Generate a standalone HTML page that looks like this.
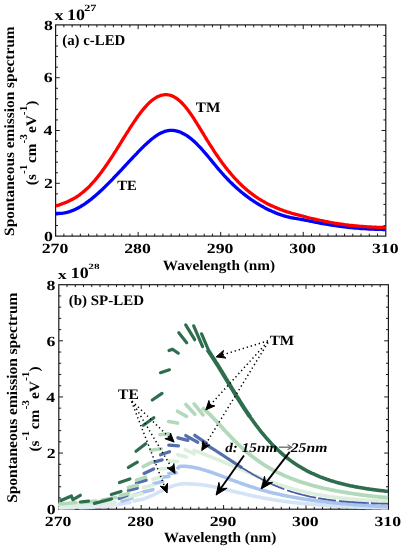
<!DOCTYPE html>
<html><head><meta charset="utf-8"><title>Spontaneous emission spectrum</title>
<style>html,body{margin:0;padding:0;background:#fff;}body{width:404px;height:550px;overflow:hidden;}svg{display:block;}</style>
</head><body>
<svg width="404" height="550" viewBox="0 0 404 550">
<rect width="404" height="550" fill="#fff"/>
<g font-family="'Liberation Serif','Times New Roman',serif" font-weight="bold" text-rendering="geometricPrecision" fill="#000">
<rect x="55.6" y="24.9" width="330.2" height="211.2" fill="none" stroke="#1a1a1a" stroke-width="1.2"/>
<path d="M63.86,236.1v-2.4M63.86,24.9v2.4M72.11,236.1v-2.4M72.11,24.9v2.4M80.36,236.1v-2.4M80.36,24.9v2.4M88.62,236.1v-2.4M88.62,24.9v2.4M96.88,236.1v-2.4M96.88,24.9v2.4M105.13,236.1v-2.4M105.13,24.9v2.4M113.38,236.1v-2.4M113.38,24.9v2.4M121.64,236.1v-2.4M121.64,24.9v2.4M129.89,236.1v-2.4M129.89,24.9v2.4M138.15,236.1v-4.2M138.15,24.9v4.2M146.41,236.1v-2.4M146.41,24.9v2.4M154.66,236.1v-2.4M154.66,24.9v2.4M162.91,236.1v-2.4M162.91,24.9v2.4M171.17,236.1v-2.4M171.17,24.9v2.4M179.42,236.1v-2.4M179.42,24.9v2.4M187.68,236.1v-2.4M187.68,24.9v2.4M195.93,236.1v-2.4M195.93,24.9v2.4M204.19,236.1v-2.4M204.19,24.9v2.4M212.44,236.1v-2.4M212.44,24.9v2.4M220.70,236.1v-4.2M220.70,24.9v4.2M228.95,236.1v-2.4M228.95,24.9v2.4M237.21,236.1v-2.4M237.21,24.9v2.4M245.46,236.1v-2.4M245.46,24.9v2.4M253.72,236.1v-2.4M253.72,24.9v2.4M261.97,236.1v-2.4M261.97,24.9v2.4M270.23,236.1v-2.4M270.23,24.9v2.4M278.48,236.1v-2.4M278.48,24.9v2.4M286.74,236.1v-2.4M286.74,24.9v2.4M295.00,236.1v-2.4M295.00,24.9v2.4M303.25,236.1v-4.2M303.25,24.9v4.2M311.50,236.1v-2.4M311.50,24.9v2.4M319.76,236.1v-2.4M319.76,24.9v2.4M328.01,236.1v-2.4M328.01,24.9v2.4M336.27,236.1v-2.4M336.27,24.9v2.4M344.52,236.1v-2.4M344.52,24.9v2.4M352.78,236.1v-2.4M352.78,24.9v2.4M361.03,236.1v-2.4M361.03,24.9v2.4M369.29,236.1v-2.4M369.29,24.9v2.4M377.54,236.1v-2.4M377.54,24.9v2.4M55.6,225.54h2.4M385.8,225.54h-2.4M55.6,214.98h2.4M385.8,214.98h-2.4M55.6,204.42h2.4M385.8,204.42h-2.4M55.6,193.86h2.4M385.8,193.86h-2.4M55.6,183.30h4.2M385.8,183.30h-4.2M55.6,172.74h2.4M385.8,172.74h-2.4M55.6,162.18h2.4M385.8,162.18h-2.4M55.6,151.62h2.4M385.8,151.62h-2.4M55.6,141.06h2.4M385.8,141.06h-2.4M55.6,130.50h4.2M385.8,130.50h-4.2M55.6,119.94h2.4M385.8,119.94h-2.4M55.6,109.38h2.4M385.8,109.38h-2.4M55.6,98.82h2.4M385.8,98.82h-2.4M55.6,88.26h2.4M385.8,88.26h-2.4M55.6,77.70h4.2M385.8,77.70h-4.2M55.6,67.14h2.4M385.8,67.14h-2.4M55.6,56.58h2.4M385.8,56.58h-2.4M55.6,46.02h2.4M385.8,46.02h-2.4M55.6,35.46h2.4M385.8,35.46h-2.4" stroke="#1a1a1a" stroke-width="1" fill="none"/>
<path d="M55.9,213.3 L56.9,213.4 L57.9,213.4 L58.9,213.5 L59.9,213.4 L60.9,213.4 L61.9,213.3 L62.9,213.2 L63.9,213.0 L64.9,212.8 L65.9,212.6 L66.9,212.4 L67.9,212.1 L68.9,211.9 L69.9,211.5 L70.9,211.2 L71.9,210.8 L72.9,210.4 L73.9,210.0 L74.9,209.5 L75.9,209.1 L76.9,208.6 L77.9,208.1 L78.9,207.5 L79.9,206.9 L80.9,206.4 L81.9,205.7 L82.9,205.1 L83.9,204.5 L84.9,203.8 L85.9,203.1 L86.9,202.4 L87.9,201.7 L88.9,200.9 L89.9,200.1 L90.9,199.4 L91.9,198.6 L92.9,197.7 L93.9,196.9 L94.9,196.1 L95.9,195.2 L96.9,194.3 L97.9,193.4 L98.9,192.5 L99.9,191.6 L100.9,190.7 L101.9,189.8 L102.9,188.8 L103.9,187.8 L104.9,186.9 L105.9,185.9 L106.9,184.9 L107.9,183.9 L108.9,182.9 L109.9,181.9 L110.9,180.9 L111.9,179.8 L112.9,178.8 L113.9,177.7 L114.9,176.7 L115.9,175.6 L116.9,174.6 L117.9,173.5 L118.9,172.5 L119.9,171.4 L120.9,170.3 L121.9,169.3 L122.9,168.2 L123.9,167.1 L124.9,166.0 L125.9,165.0 L126.9,163.9 L127.9,162.8 L128.9,161.7 L129.9,160.7 L130.9,159.6 L131.9,158.5 L132.9,157.5 L133.9,156.4 L134.9,155.4 L135.9,154.3 L136.9,153.3 L137.9,152.2 L138.9,151.2 L139.9,150.2 L140.9,149.1 L141.9,148.1 L142.9,147.2 L143.9,146.2 L144.9,145.2 L145.9,144.3 L146.9,143.3 L147.9,142.4 L148.9,141.5 L149.9,140.7 L150.9,139.8 L151.9,139.0 L152.9,138.2 L153.9,137.5 L154.9,136.7 L155.9,136.0 L156.9,135.4 L157.9,134.7 L158.9,134.1 L159.9,133.6 L160.9,133.1 L161.9,132.6 L162.9,132.2 L163.9,131.8 L164.9,131.4 L165.9,131.1 L166.9,130.9 L167.9,130.7 L168.9,130.5 L169.9,130.4 L170.9,130.4 L171.9,130.4 L172.9,130.4 L173.9,130.5 L174.9,130.7 L175.9,130.9 L176.9,131.1 L177.9,131.4 L178.9,131.7 L179.9,132.0 L180.9,132.4 L181.9,132.9 L182.9,133.4 L183.9,133.9 L184.9,134.5 L185.9,135.1 L186.9,135.7 L187.9,136.4 L188.9,137.1 L189.9,137.9 L190.9,138.6 L191.9,139.5 L192.9,140.3 L193.9,141.2 L194.9,142.1 L195.9,143.1 L196.9,144.0 L197.9,145.1 L198.9,146.1 L199.9,147.1 L200.9,148.2 L201.9,149.3 L202.9,150.5 L203.9,151.6 L204.9,152.8 L205.9,153.9 L206.9,155.1 L207.9,156.3 L208.9,157.5 L209.9,158.7 L210.9,159.9 L211.9,161.1 L212.9,162.4 L213.9,163.6 L214.9,164.8 L215.9,166.0 L216.9,167.2 L217.9,168.4 L218.9,169.6 L219.9,170.7 L220.9,171.9 L221.9,173.0 L222.9,174.1 L223.9,175.3 L224.9,176.3 L225.9,177.4 L226.9,178.5 L227.9,179.5 L228.9,180.5 L229.9,181.6 L230.9,182.6 L231.9,183.5 L232.9,184.5 L233.9,185.4 L234.9,186.4 L235.9,187.3 L236.9,188.2 L237.9,189.1 L238.9,190.0 L239.9,190.8 L240.9,191.7 L241.9,192.5 L242.9,193.3 L243.9,194.1 L244.9,194.9 L245.9,195.7 L246.9,196.4 L247.9,197.2 L248.9,197.9 L249.9,198.6 L250.9,199.3 L251.9,200.0 L252.9,200.7 L253.9,201.4 L254.9,202.0 L255.9,202.7 L256.9,203.3 L257.9,203.9 L258.9,204.5 L259.9,205.1 L260.9,205.7 L261.9,206.3 L262.9,206.8 L263.9,207.3 L264.9,207.9 L265.9,208.4 L266.9,208.9 L267.9,209.4 L268.9,209.9 L269.9,210.4 L270.9,210.8 L271.9,211.3 L272.9,211.7 L273.9,212.1 L274.9,212.6 L275.9,213.0 L276.9,213.4 L277.9,213.8 L278.9,214.1 L279.9,214.5 L280.9,214.9 L281.9,215.2 L282.9,215.5 L283.9,215.8 L284.9,216.1 L285.9,216.4 L286.9,216.7 L287.9,216.9 L288.9,217.1 L289.9,217.4 L290.9,217.6 L291.9,217.8 L292.9,218.0 L293.9,218.1 L294.9,218.3 L295.9,218.5 L296.9,218.7 L297.9,218.8 L298.9,219.0 L299.9,219.2 L300.9,219.4 L301.9,219.5 L302.9,219.7 L303.9,219.9 L304.9,220.1 L305.9,220.3 L306.9,220.5 L307.9,220.7 L308.9,220.9 L309.9,221.1 L310.9,221.3 L311.9,221.5 L312.9,221.7 L313.9,221.9 L314.9,222.1 L315.9,222.3 L316.9,222.5 L317.9,222.7 L318.9,222.9 L319.9,223.1 L320.9,223.3 L321.9,223.5 L322.9,223.6 L323.9,223.8 L324.9,224.0 L325.9,224.2 L326.9,224.3 L327.9,224.5 L328.9,224.7 L329.9,224.8 L330.9,225.0 L331.9,225.1 L332.9,225.3 L333.9,225.4 L334.9,225.6 L335.9,225.7 L336.9,225.9 L337.9,226.0 L338.9,226.2 L339.9,226.3 L340.9,226.4 L341.9,226.5 L342.9,226.7 L343.9,226.8 L344.9,226.9 L345.9,227.0 L346.9,227.1 L347.9,227.3 L348.9,227.4 L349.9,227.5 L350.9,227.6 L351.9,227.7 L352.9,227.8 L353.9,227.9 L354.9,228.0 L355.9,228.1 L356.9,228.1 L357.9,228.2 L358.9,228.3 L359.9,228.4 L360.9,228.5 L361.9,228.5 L362.9,228.6 L363.9,228.7 L364.9,228.7 L365.9,228.8 L366.9,228.9 L367.9,228.9 L368.9,229.0 L369.9,229.0 L370.9,229.1 L371.9,229.1 L372.9,229.2 L373.9,229.2 L374.9,229.3 L375.9,229.3 L376.9,229.3 L377.9,229.3 L378.9,229.4 L379.9,229.4 L380.9,229.4 L381.9,229.4 L382.9,229.5 L383.9,229.5 L384.9,229.5 L385.4,229.5" fill="none" stroke="#0000ff" stroke-width="3.3" stroke-linejoin="round"/>
<path d="M55.9,205.9 L56.9,205.6 L57.9,205.3 L58.9,205.0 L59.9,204.6 L60.9,204.3 L61.9,203.9 L62.9,203.5 L63.9,203.2 L64.9,202.8 L65.9,202.4 L66.9,202.0 L67.9,201.5 L68.9,201.1 L69.9,200.6 L70.9,200.1 L71.9,199.6 L72.9,199.0 L73.9,198.5 L74.9,197.9 L75.9,197.3 L76.9,196.6 L77.9,196.0 L78.9,195.3 L79.9,194.6 L80.9,193.8 L81.9,193.0 L82.9,192.2 L83.9,191.4 L84.9,190.5 L85.9,189.6 L86.9,188.7 L87.9,187.8 L88.9,186.8 L89.9,185.8 L90.9,184.7 L91.9,183.6 L92.9,182.5 L93.9,181.4 L94.9,180.3 L95.9,179.1 L96.9,177.9 L97.9,176.6 L98.9,175.4 L99.9,174.1 L100.9,172.7 L101.9,171.4 L102.9,170.0 L103.9,168.6 L104.9,167.2 L105.9,165.8 L106.9,164.3 L107.9,162.9 L108.9,161.4 L109.9,159.9 L110.9,158.4 L111.9,156.8 L112.9,155.3 L113.9,153.7 L114.9,152.1 L115.9,150.6 L116.9,149.0 L117.9,147.4 L118.9,145.8 L119.9,144.2 L120.9,142.6 L121.9,140.9 L122.9,139.3 L123.9,137.7 L124.9,136.1 L125.9,134.5 L126.9,132.9 L127.9,131.3 L128.9,129.8 L129.9,128.2 L130.9,126.6 L131.9,125.1 L132.9,123.6 L133.9,122.1 L134.9,120.6 L135.9,119.2 L136.9,117.7 L137.9,116.3 L138.9,114.9 L139.9,113.6 L140.9,112.3 L141.9,111.0 L142.9,109.8 L143.9,108.6 L144.9,107.4 L145.9,106.3 L146.9,105.2 L147.9,104.2 L148.9,103.2 L149.9,102.2 L150.9,101.3 L151.9,100.5 L152.9,99.7 L153.9,99.0 L154.9,98.3 L155.9,97.7 L156.9,97.1 L157.9,96.6 L158.9,96.2 L159.9,95.8 L160.9,95.4 L161.9,95.2 L162.9,95.0 L163.9,94.8 L164.9,94.7 L165.9,94.7 L166.9,94.7 L167.9,94.8 L168.9,95.0 L169.9,95.2 L170.9,95.5 L171.9,95.9 L172.9,96.3 L173.9,96.8 L174.9,97.4 L175.9,98.0 L176.9,98.6 L177.9,99.4 L178.9,100.2 L179.9,101.1 L180.9,102.0 L181.9,103.0 L182.9,104.0 L183.9,105.1 L184.9,106.3 L185.9,107.5 L186.9,108.8 L187.9,110.1 L188.9,111.4 L189.9,112.8 L190.9,114.2 L191.9,115.7 L192.9,117.2 L193.9,118.7 L194.9,120.3 L195.9,121.9 L196.9,123.5 L197.9,125.1 L198.9,126.7 L199.9,128.3 L200.9,129.9 L201.9,131.6 L202.9,133.2 L203.9,134.9 L204.9,136.5 L205.9,138.1 L206.9,139.8 L207.9,141.4 L208.9,143.0 L209.9,144.6 L210.9,146.1 L211.9,147.7 L212.9,149.2 L213.9,150.8 L214.9,152.3 L215.9,153.8 L216.9,155.3 L217.9,156.7 L218.9,158.2 L219.9,159.6 L220.9,161.0 L221.9,162.4 L222.9,163.7 L223.9,165.1 L224.9,166.4 L225.9,167.7 L226.9,168.9 L227.9,170.2 L228.9,171.4 L229.9,172.6 L230.9,173.8 L231.9,175.0 L232.9,176.1 L233.9,177.3 L234.9,178.4 L235.9,179.4 L236.9,180.5 L237.9,181.5 L238.9,182.6 L239.9,183.6 L240.9,184.5 L241.9,185.5 L242.9,186.4 L243.9,187.3 L244.9,188.2 L245.9,189.1 L246.9,189.9 L247.9,190.8 L248.9,191.6 L249.9,192.4 L250.9,193.2 L251.9,193.9 L252.9,194.7 L253.9,195.4 L254.9,196.1 L255.9,196.8 L256.9,197.5 L257.9,198.1 L258.9,198.8 L259.9,199.4 L260.9,200.0 L261.9,200.6 L262.9,201.2 L263.9,201.8 L264.9,202.3 L265.9,202.9 L266.9,203.4 L267.9,203.9 L268.9,204.4 L269.9,204.9 L270.9,205.4 L271.9,205.9 L272.9,206.3 L273.9,206.8 L274.9,207.2 L275.9,207.6 L276.9,208.1 L277.9,208.5 L278.9,208.9 L279.9,209.3 L280.9,209.7 L281.9,210.0 L282.9,210.4 L283.9,210.8 L284.9,211.1 L285.9,211.4 L286.9,211.8 L287.9,212.1 L288.9,212.4 L289.9,212.7 L290.9,213.0 L291.9,213.3 L292.9,213.5 L293.9,213.8 L294.9,214.1 L295.9,214.4 L296.9,214.6 L297.9,214.9 L298.9,215.2 L299.9,215.4 L300.9,215.7 L301.9,216.0 L302.9,216.2 L303.9,216.5 L304.9,216.7 L305.9,217.0 L306.9,217.3 L307.9,217.5 L308.9,217.8 L309.9,218.0 L310.9,218.3 L311.9,218.5 L312.9,218.7 L313.9,219.0 L314.9,219.2 L315.9,219.4 L316.9,219.7 L317.9,219.9 L318.9,220.1 L319.9,220.3 L320.9,220.5 L321.9,220.7 L322.9,220.9 L323.9,221.1 L324.9,221.3 L325.9,221.5 L326.9,221.7 L327.9,221.9 L328.9,222.1 L329.9,222.3 L330.9,222.5 L331.9,222.7 L332.9,222.8 L333.9,223.0 L334.9,223.2 L335.9,223.3 L336.9,223.5 L337.9,223.6 L338.9,223.8 L339.9,223.9 L340.9,224.1 L341.9,224.2 L342.9,224.4 L343.9,224.5 L344.9,224.7 L345.9,224.8 L346.9,224.9 L347.9,225.0 L348.9,225.2 L349.9,225.3 L350.9,225.4 L351.9,225.5 L352.9,225.6 L353.9,225.7 L354.9,225.8 L355.9,225.9 L356.9,226.0 L357.9,226.1 L358.9,226.2 L359.9,226.3 L360.9,226.4 L361.9,226.4 L362.9,226.5 L363.9,226.6 L364.9,226.7 L365.9,226.7 L366.9,226.8 L367.9,226.9 L368.9,226.9 L369.9,227.0 L370.9,227.0 L371.9,227.1 L372.9,227.1 L373.9,227.2 L374.9,227.2 L375.9,227.2 L376.9,227.3 L377.9,227.3 L378.9,227.3 L379.9,227.3 L380.9,227.3 L381.9,227.4 L382.9,227.4 L383.9,227.4 L384.9,227.4 L385.4,227.4" fill="none" stroke="#ff0000" stroke-width="3.3" stroke-linejoin="round"/>
<g transform="matrix(1.2680 0 0 1.0000 -209.69 -245.31)"><g transform="translate(200,275)"><text font-size="14">8</text></g></g>
<g transform="matrix(1.2680 0 0 1.0000 -209.76 -192.51)"><g transform="translate(200,275)"><text font-size="14">6</text></g></g>
<g transform="matrix(1.2680 0 0 1.0000 -210.02 -139.58)"><g transform="translate(200,275)"><text font-size="14">4</text></g></g>
<g transform="matrix(1.2680 0 0 1.0000 -209.57 -86.76)"><g transform="translate(200,275)"><text font-size="14">2</text></g></g>
<g transform="matrix(1.2680 0 0 1.0000 -209.62 -34.10)"><g transform="translate(200,275)"><text font-size="14">0</text></g></g>
<g transform="matrix(1.2680 0 0 1.0000 -211.94 -22.32)"><g transform="translate(200,275)"><text font-size="14">270</text></g></g>
<g transform="matrix(1.2680 0 0 1.0000 -129.39 -22.32)"><g transform="translate(200,275)"><text font-size="14">280</text></g></g>
<g transform="matrix(1.2680 0 0 1.0000 -46.84 -22.32)"><g transform="translate(200,275)"><text font-size="14">290</text></g></g>
<g transform="matrix(1.2680 0 0 1.0000 35.74 -22.32)"><g transform="translate(200,275)"><text font-size="14">300</text></g></g>
<g transform="matrix(1.2680 0 0 1.0000 118.29 -22.32)"><g transform="translate(200,275)"><text font-size="14">310</text></g></g>
<g transform="matrix(1.2804 0 0 1.0398 -201.69 -266.13)"><g transform="translate(200,275)"><text font-size="14">x</text></g></g>
<g transform="matrix(1.1957 0 0 1.0640 -172.16 -272.97)"><g transform="translate(200,275)"><text font-size="15">10</text></g></g>
<g transform="matrix(1.2171 0 0 0.9480 -159.17 -250.20)"><g transform="translate(200,275)"><text font-size="10">27</text></g></g>
<g transform="matrix(1.0607 0 0 1.0771 -149.96 -251.22)"><g transform="translate(200,275)"><text font-size="14">(a) c-LED</text></g></g>
<g transform="matrix(1.0915 0 0 1.0345 -22.46 -172.18)"><g transform="translate(200,275)"><text font-size="14">TM</text></g></g>
<g transform="matrix(1.0452 0 0 1.0022 -91.80 -85.79)"><g transform="translate(200,275)"><text font-size="14">TE</text></g></g>
<g transform="matrix(1.0903 0 0 1.0228 -55.29 -10.94)"><g transform="translate(200,275)"><text font-size="14">Wavelength (nm)</text></g></g>
<g transform="matrix(1.0157 0 0 1.0998 -189.00 -171.32)"><g transform="translate(200,275)"><g transform="rotate(-90)"><text font-size="14" text-anchor="middle">Spontaneous emission spectrum</text></g></g></g>
<g transform="matrix(1.0357 0 0 1.0913 -170.67 -157.24)"><g transform="translate(200,275)"><g transform="rotate(-90)"><text font-size="14" text-anchor="middle">(s<tspan font-size="10.4" dy="-9.5">-1</tspan><tspan dy="9.5" dx="1.5">cm</tspan><tspan font-size="10.4" dy="-9.5">-3</tspan><tspan dy="9.5" dx="1">eV</tspan><tspan font-size="10.4" dy="-9.5">-1</tspan><tspan dy="9.5">)</tspan></text></g></g></g>
<rect x="58.8" y="284.7" width="329.59999999999997" height="224.5" fill="none" stroke="#1a1a1a" stroke-width="1.2"/>
<path d="M67.04,509.2v-2.4M67.04,284.7v2.4M75.28,509.2v-2.4M75.28,284.7v2.4M83.52,509.2v-2.4M83.52,284.7v2.4M91.76,509.2v-2.4M91.76,284.7v2.4M100.00,509.2v-2.4M100.00,284.7v2.4M108.24,509.2v-2.4M108.24,284.7v2.4M116.48,509.2v-2.4M116.48,284.7v2.4M124.72,509.2v-2.4M124.72,284.7v2.4M132.96,509.2v-2.4M132.96,284.7v2.4M141.20,509.2v-4.2M141.20,284.7v4.2M149.44,509.2v-2.4M149.44,284.7v2.4M157.68,509.2v-2.4M157.68,284.7v2.4M165.92,509.2v-2.4M165.92,284.7v2.4M174.16,509.2v-2.4M174.16,284.7v2.4M182.40,509.2v-2.4M182.40,284.7v2.4M190.64,509.2v-2.4M190.64,284.7v2.4M198.88,509.2v-2.4M198.88,284.7v2.4M207.12,509.2v-2.4M207.12,284.7v2.4M215.36,509.2v-2.4M215.36,284.7v2.4M223.60,509.2v-4.2M223.60,284.7v4.2M231.84,509.2v-2.4M231.84,284.7v2.4M240.08,509.2v-2.4M240.08,284.7v2.4M248.32,509.2v-2.4M248.32,284.7v2.4M256.56,509.2v-2.4M256.56,284.7v2.4M264.80,509.2v-2.4M264.80,284.7v2.4M273.04,509.2v-2.4M273.04,284.7v2.4M281.28,509.2v-2.4M281.28,284.7v2.4M289.52,509.2v-2.4M289.52,284.7v2.4M297.76,509.2v-2.4M297.76,284.7v2.4M306.00,509.2v-4.2M306.00,284.7v4.2M314.24,509.2v-2.4M314.24,284.7v2.4M322.48,509.2v-2.4M322.48,284.7v2.4M330.72,509.2v-2.4M330.72,284.7v2.4M338.96,509.2v-2.4M338.96,284.7v2.4M347.20,509.2v-2.4M347.20,284.7v2.4M355.44,509.2v-2.4M355.44,284.7v2.4M363.68,509.2v-2.4M363.68,284.7v2.4M371.92,509.2v-2.4M371.92,284.7v2.4M380.16,509.2v-2.4M380.16,284.7v2.4M58.8,497.97h2.4M388.4,497.97h-2.4M58.8,486.75h2.4M388.4,486.75h-2.4M58.8,475.52h2.4M388.4,475.52h-2.4M58.8,464.30h2.4M388.4,464.30h-2.4M58.8,453.07h4.2M388.4,453.07h-4.2M58.8,441.85h2.4M388.4,441.85h-2.4M58.8,430.62h2.4M388.4,430.62h-2.4M58.8,419.40h2.4M388.4,419.40h-2.4M58.8,408.17h2.4M388.4,408.17h-2.4M58.8,396.95h4.2M388.4,396.95h-4.2M58.8,385.72h2.4M388.4,385.72h-2.4M58.8,374.50h2.4M388.4,374.50h-2.4M58.8,363.27h2.4M388.4,363.27h-2.4M58.8,352.05h2.4M388.4,352.05h-2.4M58.8,340.82h4.2M388.4,340.82h-4.2M58.8,329.60h2.4M388.4,329.60h-2.4M58.8,318.38h2.4M388.4,318.38h-2.4M58.8,307.15h2.4M388.4,307.15h-2.4M58.8,295.92h2.4M388.4,295.92h-2.4" stroke="#1a1a1a" stroke-width="1" fill="none"/>
<g transform="matrix(1.2680 0 0 1.0000 -206.99 14.50)"><g transform="translate(200,275)"><text font-size="14">8</text></g></g>
<g transform="matrix(1.2680 0 0 1.0000 -207.06 70.61)"><g transform="translate(200,275)"><text font-size="14">6</text></g></g>
<g transform="matrix(1.2680 0 0 1.0000 -207.32 126.87)"><g transform="translate(200,275)"><text font-size="14">4</text></g></g>
<g transform="matrix(1.2680 0 0 1.0000 -206.87 183.01)"><g transform="translate(200,275)"><text font-size="14">2</text></g></g>
<g transform="matrix(1.2680 0 0 1.0000 -206.92 239.00)"><g transform="translate(200,275)"><text font-size="14">0</text></g></g>
<g transform="matrix(1.2680 0 0 1.0000 -208.74 250.78)"><g transform="translate(200,275)"><text font-size="14">270</text></g></g>
<g transform="matrix(1.2680 0 0 1.0000 -126.34 250.78)"><g transform="translate(200,275)"><text font-size="14">280</text></g></g>
<g transform="matrix(1.2680 0 0 1.0000 -43.94 250.78)"><g transform="translate(200,275)"><text font-size="14">290</text></g></g>
<g transform="matrix(1.2680 0 0 1.0000 38.49 250.78)"><g transform="translate(200,275)"><text font-size="14">300</text></g></g>
<g transform="matrix(1.2680 0 0 1.0000 120.89 250.78)"><g transform="translate(200,275)"><text font-size="14">310</text></g></g>
<g transform="matrix(1.2804 0 0 0.9480 -198.29 17.90)"><g transform="translate(200,275)"><text font-size="14">x</text></g></g>
<g transform="matrix(1.1957 0 0 1.0443 -168.36 -8.75)"><g transform="translate(200,275)"><text font-size="15">10</text></g></g>
<g transform="matrix(1.1302 0 0 0.7946 -137.77 50.78)"><g transform="translate(200,275)"><text font-size="10">28</text></g></g>
<g transform="matrix(1.0711 0 0 1.0400 -145.55 19.00)"><g transform="translate(200,275)"><text font-size="14">(b) SP-LED</text></g></g>
<g transform="matrix(1.0869 0 0 1.0129 52.27 66.24)"><g transform="translate(200,275)"><text font-size="14">TM</text></g></g>
<g transform="matrix(1.1130 0 0 1.0453 -104.57 111.15)"><g transform="translate(200,275)"><text font-size="14">TE</text></g></g>
<g transform="matrix(1.0913 0 0 1.0228 -54.48 260.96)"><g transform="translate(200,275)"><text font-size="14">Wavelength (nm)</text></g></g>
<g transform="matrix(1.0551 0 0 1.1030 -193.59 94.41)"><g transform="translate(200,275)"><g transform="rotate(-90)"><text font-size="14" text-anchor="middle">Spontaneous emission spectrum</text></g></g></g>
<g transform="matrix(1.0098 0 0 1.0978 -162.93 107.11)"><g transform="translate(200,275)"><g transform="rotate(-90)"><text font-size="14" text-anchor="middle">(s<tspan font-size="10.4" dy="-9.5">-1</tspan><tspan dy="9.5" dx="1.5">cm</tspan><tspan font-size="10.4" dy="-9.5">-3</tspan><tspan dy="9.5" dx="1">eV</tspan><tspan font-size="10.4" dy="-9.5">-1</tspan><tspan dy="9.5">)</tspan></text></g></g></g>
<path d="M60,508L74,507.8M80,507.6L94,507.2M100,506.6L113,505.6M119,504.2L130,502.5M134,501L144,499" fill="none" stroke="#d5e3f7" stroke-width="3.6" stroke-linecap="round" stroke-linejoin="round"/>
<path d="M145.0,498.4 L146.0,498.0 L147.0,497.6 L148.0,497.2 L149.0,496.8 L150.0,496.4 L151.0,496.0 L152.0,495.5 L153.0,495.1 L154.0,494.6 L155.0,494.1 L156.0,493.7 L157.0,493.2 L158.0,492.7 L159.0,492.2 L160.0,491.7 L161.0,491.2 L162.0,490.7 L163.0,490.2 L164.0,489.7 L165.0,489.3 L166.0,488.8 L167.0,488.3 L168.0,487.9 L169.0,487.4 L170.0,487.0 L171.0,486.6 L172.0,486.2 L173.0,485.9 L174.0,485.5 L175.0,485.2 L176.0,484.9 L177.0,484.7 L178.0,484.5 L179.0,484.3 L180.0,484.1 L181.0,484.0 L182.0,483.9 L183.0,483.9 L184.0,483.8 L185.0,483.8 L186.0,483.8 L187.0,483.8 L188.0,483.9 L189.0,483.9 L190.0,483.9 L191.0,483.9 L192.0,484.0 L193.0,484.0 L194.0,484.1 L195.0,484.2 L196.0,484.2 L197.0,484.3 L198.0,484.4 L199.0,484.5 L200.0,484.6 L201.0,484.7 L202.0,484.8 L203.0,484.9 L204.0,485.1 L205.0,485.2 L206.0,485.4 L207.0,485.5 L208.0,485.7 L209.0,485.9 L210.0,486.0 L211.0,486.2 L212.0,486.4 L213.0,486.6 L214.0,486.8 L215.0,487.0 L216.0,487.2 L217.0,487.4 L218.0,487.6 L219.0,487.8 L220.0,488.1 L221.0,488.3 L222.0,488.5 L223.0,488.8 L224.0,489.0 L225.0,489.2 L226.0,489.5 L227.0,489.7 L228.0,489.9 L229.0,490.2 L230.0,490.4 L231.0,490.7 L232.0,490.9 L233.0,491.2 L234.0,491.4 L235.0,491.7 L236.0,491.9 L237.0,492.2 L238.0,492.4 L239.0,492.6 L240.0,492.9 L241.0,493.1 L242.0,493.4 L243.0,493.6 L244.0,493.8 L245.0,494.1 L246.0,494.3 L247.0,494.5 L248.0,494.8 L249.0,495.0 L250.0,495.2 L251.0,495.4 L252.0,495.7 L253.0,495.9 L254.0,496.1 L255.0,496.3 L256.0,496.5 L257.0,496.7 L258.0,496.9 L259.0,497.1 L260.0,497.3 L261.0,497.5 L262.0,497.7 L263.0,497.9 L264.0,498.1 L265.0,498.3 L266.0,498.5 L267.0,498.6 L268.0,498.8 L269.0,499.0 L270.0,499.2 L271.0,499.3 L272.0,499.5 L273.0,499.7 L274.0,499.8 L275.0,500.0 L276.0,500.1 L277.0,500.3 L278.0,500.5 L279.0,500.6 L280.0,500.8 L281.0,500.9 L282.0,501.0 L283.0,501.2 L284.0,501.3 L285.0,501.5 L286.0,501.6 L287.0,501.7 L288.0,501.8 L289.0,502.0 L290.0,502.1 L291.0,502.2 L292.0,502.3 L293.0,502.5 L294.0,502.6 L295.0,502.7 L296.0,502.8 L297.0,502.9 L298.0,503.0 L299.0,503.1 L300.0,503.2 L301.0,503.3 L302.0,503.4 L303.0,503.5 L304.0,503.6 L305.0,503.7 L306.0,503.8 L307.0,503.9 L308.0,504.0 L309.0,504.1 L310.0,504.2 L311.0,504.3 L312.0,504.3 L313.0,504.4 L314.0,504.5 L315.0,504.6 L316.0,504.7 L317.0,504.8 L318.0,504.8 L319.0,504.9 L320.0,505.0 L321.0,505.1 L322.0,505.1 L323.0,505.2 L324.0,505.3 L325.0,505.3 L326.0,505.4 L327.0,505.5 L328.0,505.5 L329.0,505.6 L330.0,505.7 L331.0,505.7 L332.0,505.8 L333.0,505.8 L334.0,505.9 L335.0,506.0 L336.0,506.0 L337.0,506.1 L338.0,506.1 L339.0,506.2 L340.0,506.2 L341.0,506.3 L342.0,506.3 L343.0,506.4 L344.0,506.4 L345.0,506.5 L346.0,506.5 L347.0,506.6 L348.0,506.6 L349.0,506.7 L350.0,506.7 L351.0,506.8 L352.0,506.8 L353.0,506.9 L354.0,506.9 L355.0,506.9 L356.0,507.0 L357.0,507.0 L358.0,507.1 L359.0,507.1 L360.0,507.1 L361.0,507.2 L362.0,507.2 L363.0,507.3 L364.0,507.3 L365.0,507.3 L366.0,507.4 L367.0,507.4 L368.0,507.4 L369.0,507.5 L370.0,507.5 L371.0,507.5 L372.0,507.6 L373.0,507.6 L374.0,507.6 L375.0,507.7 L376.0,507.7 L377.0,507.7 L378.0,507.8 L379.0,507.8 L380.0,507.8 L381.0,507.8 L382.0,507.9 L383.0,507.9 L384.0,507.9 L385.0,508.0 L386.0,508.0 L387.0,508.0 L388.0,508.0" fill="none" stroke="#d5e3f7" stroke-width="3.6" stroke-linejoin="round"/>
<path d="M60,507.8L118,505.5" fill="none" stroke="#e3ecf8" stroke-width="3.0" stroke-linecap="round" stroke-linejoin="round"/>
<path d="M122,501L132,498M134,495L143,492.5M143.2,492L152.9,489.7M153.6,483.8L162.5,481.6M161.5,477.3L168.9,476.5M168.9,473.6L176.3,472.8" fill="none" stroke="#a9c5ee" stroke-width="3.6" stroke-linecap="round" stroke-linejoin="round"/>
<path d="M177.0,469.2 L178.0,467.9 L179.0,467.0 L180.0,466.4 L181.0,466.2 L182.0,466.2 L183.0,466.2 L184.0,466.3 L185.0,466.3 L186.0,466.4 L187.0,466.5 L188.0,466.6 L189.0,466.7 L190.0,466.8 L191.0,467.0 L192.0,467.1 L193.0,467.3 L194.0,467.5 L195.0,467.7 L196.0,467.9 L197.0,468.1 L198.0,468.3 L199.0,468.6 L200.0,468.8 L201.0,469.1 L202.0,469.4 L203.0,469.7 L204.0,469.9 L205.0,470.2 L206.0,470.6 L207.0,470.9 L208.0,471.2 L209.0,471.5 L210.0,471.8 L211.0,472.2 L212.0,472.5 L213.0,472.9 L214.0,473.2 L215.0,473.6 L216.0,474.0 L217.0,474.3 L218.0,474.7 L219.0,475.1 L220.0,475.4 L221.0,475.8 L222.0,476.2 L223.0,476.6 L224.0,476.9 L225.0,477.3 L226.0,477.7 L227.0,478.1 L228.0,478.5 L229.0,478.8 L230.0,479.2 L231.0,479.6 L232.0,480.0 L233.0,480.4 L234.0,480.7 L235.0,481.1 L236.0,481.5 L237.0,481.8 L238.0,482.2 L239.0,482.6 L240.0,482.9 L241.0,483.3 L242.0,483.6 L243.0,484.0 L244.0,484.3 L245.0,484.7 L246.0,485.0 L247.0,485.4 L248.0,485.7 L249.0,486.0 L250.0,486.4 L251.0,486.7 L252.0,487.0 L253.0,487.3 L254.0,487.6 L255.0,487.9 L256.0,488.3 L257.0,488.6 L258.0,488.9 L259.0,489.2 L260.0,489.4 L261.0,489.7 L262.0,490.0 L263.0,490.3 L264.0,490.6 L265.0,490.9 L266.0,491.1 L267.0,491.4 L268.0,491.7 L269.0,491.9 L270.0,492.2 L271.0,492.4 L272.0,492.7 L273.0,492.9 L274.0,493.2 L275.0,493.4 L276.0,493.6 L277.0,493.9 L278.0,494.1 L279.0,494.3 L280.0,494.5 L281.0,494.8 L282.0,495.0 L283.0,495.2 L284.0,495.4 L285.0,495.6 L286.0,495.8 L287.0,496.0 L288.0,496.2 L289.0,496.4 L290.0,496.6 L291.0,496.8 L292.0,497.0 L293.0,497.2 L294.0,497.3 L295.0,497.5 L296.0,497.7 L297.0,497.9 L298.0,498.0 L299.0,498.2 L300.0,498.4 L301.0,498.5 L302.0,498.7 L303.0,498.9 L304.0,499.0 L305.0,499.2 L306.0,499.3 L307.0,499.5 L308.0,499.6 L309.0,499.8 L310.0,499.9 L311.0,500.1 L312.0,500.2 L313.0,500.3 L314.0,500.5 L315.0,500.6 L316.0,500.7 L317.0,500.9 L318.0,501.0 L319.0,501.1 L320.0,501.2 L321.0,501.4 L322.0,501.5 L323.0,501.6 L324.0,501.7 L325.0,501.8 L326.0,501.9 L327.0,502.1 L328.0,502.2 L329.0,502.3 L330.0,502.4 L331.0,502.5 L332.0,502.6 L333.0,502.7 L334.0,502.8 L335.0,502.9 L336.0,503.0 L337.0,503.1 L338.0,503.2 L339.0,503.3 L340.0,503.4 L341.0,503.5 L342.0,503.6 L343.0,503.6 L344.0,503.7 L345.0,503.8 L346.0,503.9 L347.0,504.0 L348.0,504.1 L349.0,504.2 L350.0,504.2 L351.0,504.3 L352.0,504.4 L353.0,504.5 L354.0,504.6 L355.0,504.6 L356.0,504.7 L357.0,504.8 L358.0,504.9 L359.0,504.9 L360.0,505.0 L361.0,505.1 L362.0,505.1 L363.0,505.2 L364.0,505.3 L365.0,505.3 L366.0,505.4 L367.0,505.5 L368.0,505.5 L369.0,505.6 L370.0,505.7 L371.0,505.7 L372.0,505.8 L373.0,505.9 L374.0,505.9 L375.0,506.0 L376.0,506.0 L377.0,506.1 L378.0,506.1 L379.0,506.2 L380.0,506.3 L381.0,506.3 L382.0,506.4 L383.0,506.4 L384.0,506.5 L385.0,506.5 L386.0,506.6 L387.0,506.6 L388.0,506.7" fill="none" stroke="#a9c5ee" stroke-width="3.6" stroke-linejoin="round"/>
<path d="M60,505L90,504.2L115,502.5" fill="none" stroke="#dcefdc" stroke-width="4.2" stroke-linecap="round" stroke-linejoin="round"/>
<path d="M120,498.5L132,496M134.3,495.2L142,493.8M143.2,487.5L152.9,485.3M152.9,479.3L161.1,477.1M160.3,468.9L168.5,468.2M169,461L177.5,461.5M177.7,454.7L186.6,457M185.1,449.5L194,454M194,450.3L203.8,454.2" fill="none" stroke="#dcefdc" stroke-width="3.6" stroke-linecap="round" stroke-linejoin="round"/>
<path d="M203.0,453.9 L204.0,454.3 L205.0,454.6 L206.0,455.0 L207.0,455.4 L208.0,455.8 L209.0,456.1 L210.0,456.5 L211.0,456.9 L212.0,457.3 L213.0,457.7 L214.0,458.1 L215.0,458.5 L216.0,458.9 L217.0,459.3 L218.0,459.7 L219.0,460.1 L220.0,460.5 L221.0,460.9 L222.0,461.4 L223.0,461.8 L224.0,462.2 L225.0,462.6 L226.0,463.0 L227.0,463.5 L228.0,463.9 L229.0,464.3 L230.0,464.7 L231.0,465.2 L232.0,465.6 L233.0,466.0 L234.0,466.5 L235.0,466.9 L236.0,467.3 L237.0,467.8 L238.0,468.2 L239.0,468.6 L240.0,469.1 L241.0,469.5 L242.0,469.9 L243.0,470.4 L244.0,470.8 L245.0,471.2 L246.0,471.7 L247.0,472.1 L248.0,472.5 L249.0,472.9 L250.0,473.4 L251.0,473.8 L252.0,474.2 L253.0,474.6 L254.0,475.0 L255.0,475.5 L256.0,475.9 L257.0,476.3 L258.0,476.7 L259.0,477.1 L260.0,477.5 L261.0,477.9 L262.0,478.3 L263.0,478.7 L264.0,479.1 L265.0,479.5 L266.0,479.9 L267.0,480.2 L268.0,480.6 L269.0,481.0 L270.0,481.4 L271.0,481.7 L272.0,482.1 L273.0,482.5 L274.0,482.8 L275.0,483.2 L276.0,483.5 L277.0,483.9 L278.0,484.2 L279.0,484.6 L280.0,484.9 L281.0,485.2 L282.0,485.6 L283.0,485.9 L284.0,486.2 L285.0,486.5 L286.0,486.8 L287.0,487.1 L288.0,487.4 L289.0,487.7 L290.0,488.0 L291.0,488.3 L292.0,488.6 L293.0,488.9 L294.0,489.2 L295.0,489.4 L296.0,489.7 L297.0,490.0 L298.0,490.2 L299.0,490.5 L300.0,490.7 L301.0,491.0 L302.0,491.2 L303.0,491.5 L304.0,491.7 L305.0,491.9 L306.0,492.2 L307.0,492.4 L308.0,492.6 L309.0,492.8 L310.0,493.0 L311.0,493.2 L312.0,493.5 L313.0,493.7 L314.0,493.9 L315.0,494.0 L316.0,494.2 L317.0,494.4 L318.0,494.6 L319.0,494.8 L320.0,495.0 L321.0,495.1 L322.0,495.3 L323.0,495.5 L324.0,495.6 L325.0,495.8 L326.0,496.0 L327.0,496.1 L328.0,496.3 L329.0,496.4 L330.0,496.6 L331.0,496.7 L332.0,496.8 L333.0,497.0 L334.0,497.1 L335.0,497.2 L336.0,497.4 L337.0,497.5 L338.0,497.6 L339.0,497.7 L340.0,497.9 L341.0,498.0 L342.0,498.1 L343.0,498.2 L344.0,498.3 L345.0,498.4 L346.0,498.5 L347.0,498.6 L348.0,498.7 L349.0,498.8 L350.0,498.9 L351.0,499.0 L352.0,499.1 L353.0,499.2 L354.0,499.3 L355.0,499.4 L356.0,499.4 L357.0,499.5 L358.0,499.6 L359.0,499.7 L360.0,499.8 L361.0,499.8 L362.0,499.9 L363.0,500.0 L364.0,500.0 L365.0,500.1 L366.0,500.2 L367.0,500.2 L368.0,500.3 L369.0,500.4 L370.0,500.4 L371.0,500.5 L372.0,500.5 L373.0,500.6 L374.0,500.7 L375.0,500.7 L376.0,500.8 L377.0,500.8 L378.0,500.9 L379.0,500.9 L380.0,501.0 L381.0,501.0 L382.0,501.0 L383.0,501.1 L384.0,501.1 L385.0,501.2 L386.0,501.2 L387.0,501.3 L388.0,501.3" fill="none" stroke="#dcefdc" stroke-width="3.6" stroke-linejoin="round"/>
<path d="M119,498.5L127,495.5M128.4,490.5L137.3,488.2M136.5,483L146.2,480.1M144,473.4L153.6,468.9M153.9,462.1L162.1,459.9M160.6,454.7L169.5,451.7M168.8,445.1L178.4,445.8M177.9,437.8L187.8,440.4M185.8,435.6L197.7,442.2M194.8,435.3L206.6,443.4" fill="none" stroke="#5570a8" stroke-width="3.3" stroke-linecap="round" stroke-linejoin="round"/>
<path d="M202.0,442.3 L203.0,442.8 L204.0,443.4 L205.0,444.0 L206.0,444.6 L207.0,445.2 L208.0,445.8 L209.0,446.4 L210.0,447.1 L211.0,447.7 L212.0,448.3 L213.0,448.9 L214.0,449.6 L215.0,450.2 L216.0,450.8 L217.0,451.5 L218.0,452.1 L219.0,452.8 L220.0,453.4 L221.0,454.1 L222.0,454.7 L223.0,455.4 L224.0,456.0 L225.0,456.7 L226.0,457.4 L227.0,458.0 L228.0,458.7 L229.0,459.3 L230.0,460.0 L231.0,460.6 L232.0,461.3 L233.0,461.9 L234.0,462.6 L235.0,463.2 L236.0,463.9 L237.0,464.5 L238.0,465.2 L239.0,465.8 L240.0,466.5 L241.0,467.1 L242.0,467.7" fill="none" stroke="#5570a8" stroke-width="3.2" stroke-linejoin="round"/>
<path d="M240.0,466.5 L241.0,467.1 L242.0,467.7 L243.0,468.4 L244.0,469.0 L245.0,469.6 L246.0,470.2 L247.0,470.8 L248.0,471.4 L249.0,472.0 L250.0,472.6 L251.0,473.2 L252.0,473.8 L253.0,474.4 L254.0,475.0 L255.0,475.5 L256.0,476.1 L257.0,476.7 L258.0,477.2 L259.0,477.8 L260.0,478.3 L261.0,478.8 L262.0,479.4 L263.0,479.9 L264.0,480.4 L265.0,480.9 L266.0,481.4 L267.0,481.9 L268.0,482.4 L269.0,482.8 L270.0,483.3 L271.0,483.8 L272.0,484.2 L273.0,484.7 L274.0,485.1 L275.0,485.6 L276.0,486.0 L277.0,486.4 L278.0,486.8 L279.0,487.2 L280.0,487.6 L281.0,488.0 L282.0,488.4 L283.0,488.8 L284.0,489.1 L285.0,489.5 L286.0,489.9 L287.0,490.2 L288.0,490.6 L289.0,490.9 L290.0,491.2 L291.0,491.6 L292.0,491.9 L293.0,492.2 L294.0,492.5 L295.0,492.8 L296.0,493.1 L297.0,493.4 L298.0,493.6 L299.0,493.9 L300.0,494.2 L301.0,494.4 L302.0,494.7 L303.0,495.0 L304.0,495.2 L305.0,495.4 L306.0,495.7 L307.0,495.9 L308.0,496.1 L309.0,496.3 L310.0,496.6 L311.0,496.8 L312.0,497.0 L313.0,497.2 L314.0,497.4 L315.0,497.6 L316.0,497.7 L317.0,497.9 L318.0,498.1 L319.0,498.3 L320.0,498.4 L321.0,498.6 L322.0,498.8 L323.0,498.9 L324.0,499.1 L325.0,499.2 L326.0,499.4 L327.0,499.5 L328.0,499.6 L329.0,499.8 L330.0,499.9 L331.0,500.0 L332.0,500.2 L333.0,500.3 L334.0,500.4 L335.0,500.5 L336.0,500.6 L337.0,500.7 L338.0,500.9 L339.0,501.0 L340.0,501.1 L341.0,501.2 L342.0,501.3 L343.0,501.3 L344.0,501.4 L345.0,501.5 L346.0,501.6 L347.0,501.7 L348.0,501.8 L349.0,501.9 L350.0,501.9 L351.0,502.0 L352.0,502.1 L353.0,502.2 L354.0,502.2 L355.0,502.3 L356.0,502.4 L357.0,502.4 L358.0,502.5 L359.0,502.6 L360.0,502.6 L361.0,502.7 L362.0,502.7 L363.0,502.8 L364.0,502.8 L365.0,502.9 L366.0,502.9 L367.0,503.0 L368.0,503.0 L369.0,503.1 L370.0,503.1 L371.0,503.2 L372.0,503.2 L373.0,503.3 L374.0,503.3 L375.0,503.3 L376.0,503.4 L377.0,503.4 L378.0,503.5 L379.0,503.5 L380.0,503.5 L381.0,503.6 L382.0,503.6 L383.0,503.6 L384.0,503.7 L385.0,503.7 L386.0,503.7 L387.0,503.7 L388.0,503.8" fill="none" stroke="#4a5a9f" stroke-width="1.7" stroke-linejoin="round" stroke-dasharray="30 2 18 3"/>
<path d="M60,504L76,502.5M82,502.5L96,501M102,500L116,497.5M120.2,495.7L128.4,493.4M128.4,487.5L137.3,485.3M136.5,480.1L145.5,477.1M143.2,466.7L152.1,462.2M150.9,450.3L161.3,448.8M159.9,434.7L168.8,433.9M168.6,421.6L177.5,423.1M177.5,411.2L186.5,416.4M185.9,404.5L194.9,414.2M194.1,403.8L203,414.9" fill="none" stroke="#b3d9bb" stroke-width="3.6" stroke-linecap="round" stroke-linejoin="round"/>
<path d="M202.0,407.7 L203.0,408.5 L204.0,409.3 L205.0,410.1 L206.0,411.0 L207.0,411.9 L208.0,412.8 L209.0,413.7 L210.0,414.7 L211.0,415.7 L212.0,416.7 L213.0,417.7 L214.0,418.8 L215.0,419.8 L216.0,420.9 L217.0,422.0 L218.0,423.1 L219.0,424.2 L220.0,425.2 L221.0,426.3 L222.0,427.4 L223.0,428.5 L224.0,429.6 L225.0,430.7 L226.0,431.8 L227.0,432.8 L228.0,433.9 L229.0,435.0 L230.0,436.0 L231.0,437.1 L232.0,438.1 L233.0,439.1 L234.0,440.1 L235.0,441.1 L236.0,442.1 L237.0,443.1 L238.0,444.1 L239.0,445.0 L240.0,446.0 L241.0,446.9 L242.0,447.8 L243.0,448.7 L244.0,449.6 L245.0,450.5 L246.0,451.4 L247.0,452.2 L248.0,453.0 L249.0,453.9 L250.0,454.7 L251.0,455.5 L252.0,456.3 L253.0,457.0 L254.0,457.8 L255.0,458.5 L256.0,459.3 L257.0,460.0 L258.0,460.7 L259.0,461.4 L260.0,462.1 L261.0,462.8 L262.0,463.4 L263.0,464.1 L264.0,464.7 L265.0,465.4 L266.0,466.0 L267.0,466.6 L268.0,467.2 L269.0,467.8 L270.0,468.3 L271.0,468.9 L272.0,469.5 L273.0,470.0 L274.0,470.5 L275.0,471.1 L276.0,471.6 L277.0,472.1 L278.0,472.6 L279.0,473.1 L280.0,473.6 L281.0,474.0 L282.0,474.5 L283.0,475.0 L284.0,475.4 L285.0,475.9 L286.0,476.3 L287.0,476.7 L288.0,477.1 L289.0,477.5 L290.0,477.9 L291.0,478.3 L292.0,478.7 L293.0,479.1 L294.0,479.5 L295.0,479.9 L296.0,480.2 L297.0,480.6 L298.0,480.9 L299.0,481.3 L300.0,481.6 L301.0,482.0 L302.0,482.3 L303.0,482.6 L304.0,482.9 L305.0,483.2 L306.0,483.5 L307.0,483.8 L308.0,484.1 L309.0,484.4 L310.0,484.7 L311.0,485.0 L312.0,485.3 L313.0,485.6 L314.0,485.8 L315.0,486.1 L316.0,486.3 L317.0,486.6 L318.0,486.9 L319.0,487.1 L320.0,487.4 L321.0,487.6 L322.0,487.8 L323.0,488.1 L324.0,488.3 L325.0,488.5 L326.0,488.7 L327.0,489.0 L328.0,489.2 L329.0,489.4 L330.0,489.6 L331.0,489.8 L332.0,490.0 L333.0,490.2 L334.0,490.4 L335.0,490.6 L336.0,490.8 L337.0,491.0 L338.0,491.2 L339.0,491.3 L340.0,491.5 L341.0,491.7 L342.0,491.9 L343.0,492.1 L344.0,492.2 L345.0,492.4 L346.0,492.6 L347.0,492.7 L348.0,492.9 L349.0,493.0 L350.0,493.2 L351.0,493.3 L352.0,493.5 L353.0,493.7 L354.0,493.8 L355.0,493.9 L356.0,494.1 L357.0,494.2 L358.0,494.4 L359.0,494.5 L360.0,494.6 L361.0,494.8 L362.0,494.9 L363.0,495.0 L364.0,495.2 L365.0,495.3 L366.0,495.4 L367.0,495.5 L368.0,495.7 L369.0,495.8 L370.0,495.9 L371.0,496.0 L372.0,496.1 L373.0,496.3 L374.0,496.4 L375.0,496.5 L376.0,496.6 L377.0,496.7 L378.0,496.8 L379.0,496.9 L380.0,497.0 L381.0,497.1 L382.0,497.2 L383.0,497.3 L384.0,497.4 L385.0,497.5 L386.0,497.6 L387.0,497.7 L388.0,497.8" fill="none" stroke="#b3d9bb" stroke-width="3.8" stroke-linejoin="round"/>
<path d="M61,500.5L71.4,496L72.9,499.7L80.3,495.3M80.3,502L88.5,501.2M94.4,503.4L111.5,499M111.3,494.5L121,491.5M119.5,482.6L129.9,478.9M128.4,467.4L137.3,462.2M136,451.3L145.7,443.8M143.4,425.3L153.8,417.8M152.3,400L162,393.4M160.5,372.7L169.4,369.8M169,350.5L172.5,349.2L178.3,353.2M178.8,332.8L186.7,342.7M185.7,324.9L194.7,339.7M193.7,325.8L202.6,346.6M201.6,333.8L209.5,352.5" fill="none" stroke="#2e6e4f" stroke-width="3.2" stroke-linecap="round" stroke-linejoin="round"/>
<path d="M207.5,349.6 L208.5,351.1 L209.5,352.5 L210.5,354.0 L211.5,355.6 L212.5,357.1 L213.5,358.6 L214.5,360.2 L215.5,361.8 L216.5,363.3 L217.5,364.9 L218.5,366.5 L219.5,368.1 L220.5,369.8 L221.5,371.4 L222.5,373.0 L223.5,374.7 L224.5,376.3 L225.5,378.0 L226.5,379.6 L227.5,381.3 L228.5,382.9 L229.5,384.6 L230.5,386.2 L231.5,387.9 L232.5,389.5 L233.5,391.1 L234.5,392.8 L235.5,394.4 L236.5,396.0 L237.5,397.6 L238.5,399.2 L239.5,400.8 L240.5,402.4 L241.5,404.0 L242.5,405.5 L243.5,407.1 L244.5,408.6 L245.5,410.1 L246.5,411.6 L247.5,413.1 L248.5,414.6 L249.5,416.0 L250.0,416.8" fill="none" stroke="#2e6e4f" stroke-width="4.2" stroke-linejoin="round"/>
<path d="M248.0,413.8 L249.0,415.3 L250.0,416.8 L251.0,418.2 L252.0,419.6 L253.0,421.0 L254.0,422.4 L255.0,423.7 L256.0,425.1 L257.0,426.4 L258.0,427.7 L259.0,429.0 L260.0,430.3 L261.0,431.6 L262.0,432.8 L263.0,434.0 L264.0,435.2 L265.0,436.4 L266.0,437.6 L267.0,438.7 L268.0,439.8 L269.0,440.9 L270.0,442.0 L271.0,443.1 L272.0,444.2 L273.0,445.2 L274.0,446.2 L275.0,447.2 L276.0,448.2 L277.0,449.1 L278.0,450.1 L279.0,451.0 L280.0,451.9 L281.0,452.8 L282.0,453.7 L283.0,454.6 L284.0,455.4 L285.0,456.2 L286.0,457.0 L287.0,457.8 L288.0,458.6 L289.0,459.4 L290.0,460.1 L291.0,460.9 L292.0,461.6 L293.0,462.3 L294.0,463.0 L295.0,463.7 L296.0,464.3 L297.0,465.0 L298.0,465.6 L299.0,466.2 L300.0,466.8 L301.0,467.4 L302.0,468.0 L303.0,468.6 L304.0,469.2 L305.0,469.7 L306.0,470.3 L307.0,470.8 L308.0,471.3 L309.0,471.8 L310.0,472.3 L311.0,472.8 L312.0,473.3 L313.0,473.7 L314.0,474.2 L315.0,474.7 L316.0,475.1 L317.0,475.5 L318.0,475.9 L319.0,476.4 L320.0,476.8 L321.0,477.2 L322.0,477.5 L323.0,477.9 L324.0,478.3 L325.0,478.6 L326.0,479.0 L327.0,479.4 L328.0,479.7 L329.0,480.0 L330.0,480.4 L331.0,480.7 L332.0,481.0 L333.0,481.3 L334.0,481.6 L335.0,481.9 L336.0,482.2 L337.0,482.5 L338.0,482.7 L339.0,483.0 L340.0,483.3 L341.0,483.5 L342.0,483.8 L343.0,484.0 L344.0,484.3 L345.0,484.5 L346.0,484.8 L347.0,485.0 L348.0,485.2 L349.0,485.4 L350.0,485.7 L351.0,485.9 L352.0,486.1 L353.0,486.3 L354.0,486.5 L355.0,486.7 L356.0,486.9 L357.0,487.0 L358.0,487.2 L359.0,487.4 L360.0,487.6 L361.0,487.8 L362.0,487.9 L363.0,488.1 L364.0,488.3 L365.0,488.4 L366.0,488.6 L367.0,488.7 L368.0,488.9 L369.0,489.0 L370.0,489.2 L371.0,489.3 L372.0,489.5 L373.0,489.6 L374.0,489.7 L375.0,489.9 L376.0,490.0 L377.0,490.1 L378.0,490.2 L379.0,490.4 L380.0,490.5 L381.0,490.6 L382.0,490.7 L383.0,490.8 L384.0,490.9 L385.0,491.1 L386.0,491.2 L387.0,491.3 L388.0,491.4" fill="none" stroke="#2e6e4f" stroke-width="3.6" stroke-linejoin="round"/>
<line x1="268" y1="340.8" x2="221.8306003418347" y2="355.12229931592407" stroke="#000" stroke-width="1.5" stroke-dasharray="1.3 2.9"/>
<path d="M216.1,356.9L223.5,350.4L222.3,355.0L225.9,358.1Z" fill="#000" stroke="#000" stroke-width="1.0" stroke-linejoin="round"/>
<line x1="267.5" y1="342" x2="209.8350601342665" y2="405.4594719105884" stroke="#000" stroke-width="1.5" stroke-dasharray="1.3 2.9"/>
<path d="M205.8,409.9L208.9,400.5L210.2,405.1L214.8,405.9Z" fill="#000" stroke="#000" stroke-width="1.0" stroke-linejoin="round"/>
<line x1="268" y1="342.5" x2="204.836925480174" y2="445.4853447299124" stroke="#000" stroke-width="1.5" stroke-dasharray="1.3 2.9"/>
<path d="M201.7,450.6L203.0,440.8L205.1,445.1L209.8,445.0Z" fill="#000" stroke="#000" stroke-width="1.0" stroke-linejoin="round"/>
<line x1="132" y1="401" x2="169.8066761350715" y2="437.9086553242622" stroke="#000" stroke-width="1.5" stroke-dasharray="1.3 2.9"/>
<path d="M174.1,442.1L164.9,438.7L169.5,437.6L170.5,433.0Z" fill="#000" stroke="#000" stroke-width="1.0" stroke-linejoin="round"/>
<line x1="132" y1="401.5" x2="172.01513086377892" y2="468.25377979363583" stroke="#000" stroke-width="1.5" stroke-dasharray="1.3 2.9"/>
<path d="M175.1,473.4L167.0,467.7L171.8,467.8L173.9,463.6Z" fill="#000" stroke="#000" stroke-width="1.0" stroke-linejoin="round"/>
<line x1="131.5" y1="401.5" x2="164.92443773906174" y2="487.40831609899294" stroke="#000" stroke-width="1.5" stroke-dasharray="1.3 2.9"/>
<path d="M167.1,493.0L160.1,486.1L164.8,487.0L167.6,483.2Z" fill="#000" stroke="#000" stroke-width="1.0" stroke-linejoin="round"/>
<g transform="matrix(1.0877 0 0 0.9623 7.70 186.91)"><g transform="translate(200,275)"><text font-size="14" font-style="italic">d: 15nm</text></g></g>
<g transform="matrix(1.1177 0 0 0.9559 67.26 188.70)"><g transform="translate(200,275)"><text font-size="14" font-style="italic">25nm</text></g></g>
<line x1="278.9" y1="447.2" x2="290.5" y2="447.2" stroke="#666" stroke-width="1.3"/>
<path d="M287.5,444.6L291.8,447.2L287.5,449.8" fill="none" stroke="#666" stroke-width="1.1"/>
<line x1="244" y1="455.5" x2="219.5" y2="490.3" stroke="#000" stroke-width="1.9"/>
<path d="M216.1,495.1L218.9,482.4L220.4,489.0L227.1,488.2Z" fill="#000" stroke="#000" stroke-width="1.0" stroke-linejoin="round"/>
<line x1="289.7" y1="451.8" x2="264.7" y2="484.3" stroke="#000" stroke-width="1.9"/>
<path d="M261.2,488.9L264.5,476.3L265.7,483.0L272.5,482.4Z" fill="#000" stroke="#000" stroke-width="1.0" stroke-linejoin="round"/>
</g></svg>
</body></html>
